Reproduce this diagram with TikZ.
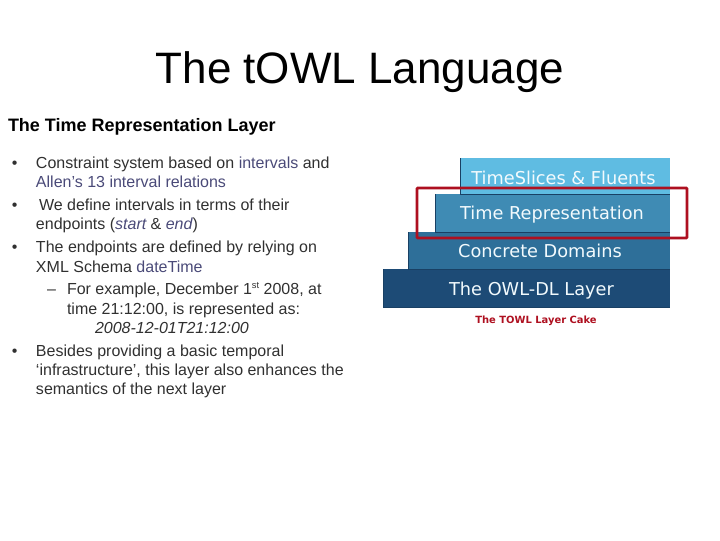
\documentclass[tikz,border=0pt]{standalone}
\usepackage{fontspec}
\setmainfont{Liberation Sans}
\newfontfamily\cakefont{DejaVu Sans}
\usetikzlibrary{positioning,calc}

\definecolor{bodygray}{HTML}{303030}
\definecolor{linkblue}{HTML}{4A4A78}
\definecolor{cakered}{HTML}{AE1020}
\definecolor{sliceblue}{HTML}{5FBCE2}
\definecolor{timeblue}{HTML}{3F8BB4}
\definecolor{concreteblue}{HTML}{2E6F99}
\definecolor{owlblue}{HTML}{1D4B76}

\begin{document}
\begin{tikzpicture}[
  x=0.75pt, y=-0.75pt,
  every node/.style={inner sep=0pt, outer sep=0pt},
  title/.style={anchor=base, font=\fontsize{33}{33}\selectfont, text=black},
  heading/.style={anchor=base west, font=\fontsize{13.5}{14}\selectfont\bfseries},
  bodyline/.style={anchor=base west, font=\fontsize{12}{12}\selectfont, text=bodygray},
  cakelayer/.style={anchor=north east, minimum height=#1*0.75pt},
  cakelabel/.style={anchor=base, font=\cakefont\fontsize{13.3}{13}\selectfont, text=white!92!sliceblue},
  cakeedge/.style={owlblue!85!black, line width=0.3pt}
]
\useasboundingbox (0,0) rectangle (720,540);

% --- Title and heading
\node[title] (title) at (360,83) {The tOWL Language};
\node[heading] (head) at (8,131) {The Time Representation Layer};

% --- Bullets
\foreach \name/\ypos in {ba/168, bb/210, bc/252, bd/356}
  \node[bodyline] (\name) at (12,\ypos) {•};
\node[bodyline] (dash) at (47,294) {–};

% --- Body lines
\node[bodyline] (la) at (36,168) {Constraint system based on \textcolor{linkblue}{intervals} and};
\node[bodyline] (lb) at (36,187) {\textcolor{linkblue}{Allen’s 13 interval relations}};
\node[bodyline] (lc) at (39,210) {We define intervals in terms of their};
\node[bodyline] (ld) at (36,229) {endpoints (\textit{\textcolor{linkblue}{start}} \& \textit{\textcolor{linkblue}{end}})};
\node[bodyline] (le) at (36,252) {The endpoints are defined by relying on};
\node[bodyline] (lf) at (36,272) {XML Schema \textcolor{linkblue}{dateTime}};
\node[bodyline] (lg) at (67,294) {For example, December 1\raisebox{0.6ex}{\fontsize{7}{7}\selectfont st} 2008, at};
\node[bodyline] (lh) at (67,314) {time 21:12:00, is represented as:};
\node[bodyline] (li) at (95,333) {\textit{2008-12-01T21:12:00}};
\node[bodyline] (lj) at (36,356) {Besides providing a basic temporal};
\node[bodyline] (lk) at (36,375) {‘infrastructure’, this layer also enhances the};
\node[bodyline] (ll) at (36,394) {semantics of the next layer};

% --- Layer cake
\node[cakelayer=36, minimum width=157.5pt, fill=sliceblue] (slices) at (670,158) {};
\node[cakelayer=38, minimum width=176.25pt, fill=timeblue] (time) at (670,194) {};
\node[cakelayer=37, minimum width=196.5pt, fill=concreteblue] (concrete) at (670,232) {};
\node[cakelayer=38, minimum width=215.25pt, fill=owlblue] (owl) at (670,269) {};

\foreach \layer in {slices, time, concrete, owl}
  \draw[cakeedge] (\layer.north west) -- (\layer.south west) -- (\layer.south east);

\node[cakelabel] at (563.5,184) {TimeSlices \& Fluents};
\node[cakelabel] at (552,219) {Time Representation};
\node[cakelabel] at (540,257) {Concrete Domains};
\node[cakelabel] at (531.5,295) {The OWL-DL Layer};
\node[anchor=base, font=\cakefont\fontsize{7.45}{8}\selectfont\bfseries, text=cakered] (caption) at (536,323) {The TOWL Layer Cake};

% --- Highlight
\draw[cakered, line width=2pt, rounded corners=0.5pt] (417,188) rectangle (687,238);

\end{tikzpicture}
\end{document}
